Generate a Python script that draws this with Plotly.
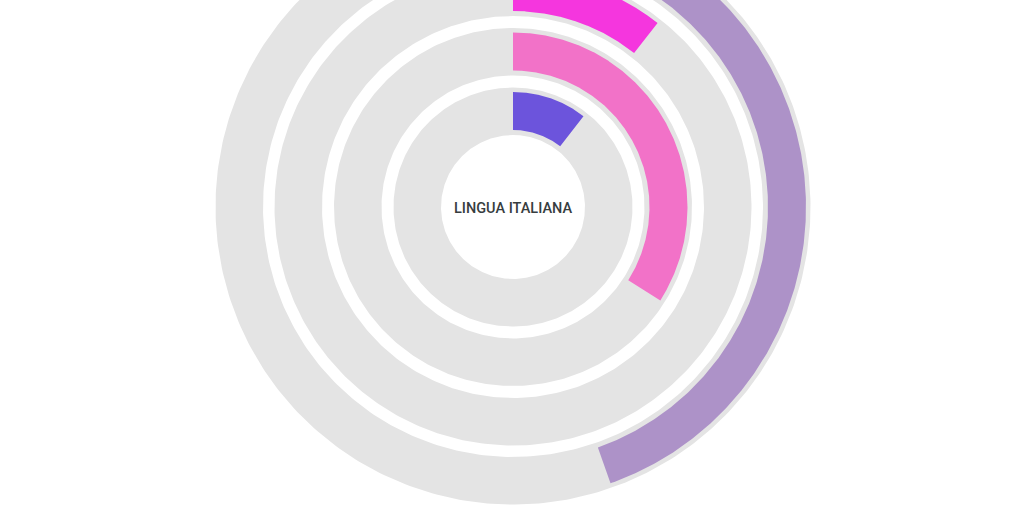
import numpy as np
import plotly.graph_objects as go

# percentuali, dall'anello interno a quello esterno
series = ["Serie 1", "Serie 2", "Serie 3", "Serie 4"]
values = [10.5, 34.0, 10.6, 44.6]
center_label = "LINGUA ITALIANA"

colors = ["#6C54DC", "#F272C8", "#F536DE", "#AD92C8"]
track_color = "#E4E4E4"

W, H = 1024, 512
CX, CY = 513, 207  # centro, in pixel dall'angolo in alto a sinistra
TRACK_IN = [72, 131.5, 191, 250]
TRACK_W = 47.5
PAD_IN, PAD_OUT = 5, 4.5


def ring(r_in, r_out, pct, n=400):
    # settore di corona circolare, in senso orario dalle ore 12
    t = np.linspace(0, 2 * np.pi * pct / 100, n)
    xs = np.concatenate([r_out * np.sin(t), r_in * np.sin(t[::-1])])
    ys = np.concatenate([r_out * np.cos(t), r_in * np.cos(t[::-1])])
    return np.append(xs, xs[0]), np.append(ys, ys[0])


fig = go.Figure()

for r0 in TRACK_IN:
    x, y = ring(r0, r0 + TRACK_W, 100)
    fig.add_trace(go.Scatter(x=x, y=y, fill="toself", fillcolor=track_color,
                             mode="lines", line=dict(width=0), hoverinfo="skip"))

for name, v, c, r0 in zip(series, values, colors, TRACK_IN):
    x, y = ring(r0 + PAD_IN, r0 + TRACK_W - PAD_OUT, v)
    fig.add_trace(go.Scatter(x=x, y=y, fill="toself", fillcolor=c, name=name,
                             mode="lines", line=dict(width=0),
                             hovertemplate=f"{name}: {v}%<extra></extra>"))

fig.add_annotation(x=0, y=-1, text=center_label, showarrow=False,
                   font=dict(family="Roboto, Arial, sans-serif", size=14.5,
                             weight=500, color="#373d3f"))

fig.update_xaxes(range=[-CX, W - CX], visible=False, fixedrange=True)
fig.update_yaxes(range=[CY - H, CY], visible=False, fixedrange=True)
fig.update_layout(width=W, height=H, margin=dict(l=0, r=0, t=0, b=0),
                  plot_bgcolor="white", paper_bgcolor="white", showlegend=False)

# fig.show()  # debug
# niente margine della pagina, cosi il grafico parte da (0, 0)
fig.write_html("out.html", config={"displayModeBar": False},
               post_script="document.body.style.margin = '0';")
